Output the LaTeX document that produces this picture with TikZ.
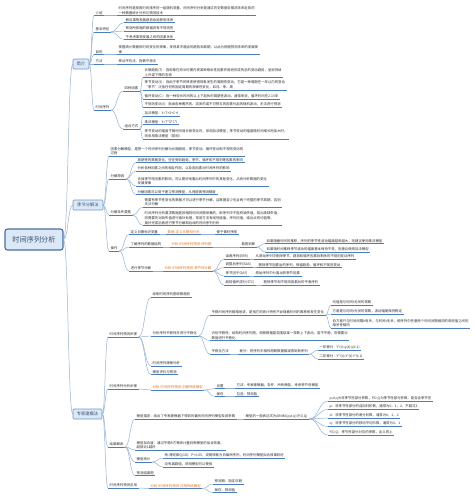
\documentclass[tikz,border=0pt]{standalone}
\usepackage{fontspec}
\newfontfamily\cjk{Noto Sans CJK SC}
\usetikzlibrary{calc}

\definecolor{txt}{RGB}{45,45,45}
\definecolor{ulc}{RGB}{74,126,187}
\definecolor{lnc}{RGB}{150,178,205}
\definecolor{orng}{RGB}{226,112,26}
\definecolor{boxf}{RGB}{219,232,246}
\definecolor{boxd}{RGB}{111,152,200}
\definecolor{rootd}{RGB}{74,110,160}
\definecolor{boxt}{RGB}{60,80,112}

\tikzset{
  topic/.style={anchor=south west, inner xsep=1.5pt, inner ysep=0.9pt, align=left, text=txt,
    font=\cjk\fontsize{3.4}{4.6}\selectfont,
    append after command={(\tikzlastnode.south west) edge[uline] (\tikzlastnode.south east)}},
  menu/.style={topic, text=orng},
  uline/.style={draw=ulc, line width=0.55pt},
  branch/.style={draw=lnc, line width=0.5pt,
    to path={.. controls ($(\tikztostart)!0.5!(\tikztotarget |- \tikztostart)$) and ($(\tikztotarget)!0.5!(\tikztostart |- \tikztotarget)$) .. (\tikztotarget)}},
  mainbox/.style={draw=boxd, fill=boxf, line width=0.6pt, rounded corners=1pt, inner sep=0pt,
    minimum height=10pt, text=boxt, font=\cjk\fontsize{4.3}{5}\selectfont},
  rootbox/.style={draw=rootd, fill=boxf, line width=1.1pt, rounded corners=2.5pt, inner sep=0pt,
    minimum width=58pt, minimum height=21pt, text=boxt, font=\cjk\fontsize{7.2}{8}\selectfont}
}

\begin{document}
\begin{tikzpicture}[x=1pt, y=-1pt]
\path[use as bounding box, fill=white] (0,0) rectangle (474,499);

% root and main branches
\node[rootbox] (root) at (34,239.5) {时间序列分析};
\node[mainbox, minimum width=16pt] (jj) at (81,64) {简介};
\node[mainbox, minimum width=30pt] (jfd) at (88,205) {季节分解法};
\node[mainbox, minimum width=29pt] (zj) at (87.5,414) {专家建模法};
\foreach \m in {jj,jfd,zj} \draw[branch] (root.east) to (\m.west);

% 简介
\node[topic] (js) at (94,15.5) {介绍};
\node[topic] (jsT) at (117,15.5) {时间序列是按照时间排序的一组随机变量，时间序列分析是通过历史数据去推测未来走势的\\一种数据统计分析与预测技术};
\node[topic] (tz) at (94,32) {基本特征};
\node[topic] (tz1) at (124,22.5) {假设事物发展趋势会延伸到未来};
\node[topic] (tz2) at (124,31) {预测所依据的数据具有不规则性};
\node[topic] (tz3) at (124,39.5) {不考虑事物发展之间的因果关系};
\node[topic] (md) at (94,54.5) {目的};
\node[topic] (mdT) at (117,54.5) {掌握统计数据依时间变化的规律，发现其中蕴含的趋势和周期，以此为依据预测未来的发展规\\律};
\node[topic] (ff) at (94,64) {方法};
\node[topic] (ffT) at (117,64) {移动平均法、指数平滑法};
\node[topic] (xl) at (94,110) {时间序列};
\node[topic] (yz) at (123,91) {四种因素};
\node[topic] (yz1) at (143,77.5) {长期趋势(T)：指现象在较长时期内受某种根本性因素作用而形成的总的变动趋势，呈现持续\\上升或下降的态势};
\node[topic] (yz2) at (143,90) {季节变动(S)：指由于季节的转变使得现象发生的周期性变动，它是一种周期在一年以内的变动\\“季节”泛指任何有固定周期的规律性变化，如月、季、周};
\node[topic] (yz3) at (143,99) {循环变动(C)：指一种较长时间的以上下起伏的周期性波动，通常来说，循环时间在2-15年};
\node[topic] (yz4) at (143,107.5) {不规则变动(I)：指由各种偶然的、突发的或不可预见的因素引起的随机波动，无法进行预测};
\node[topic] (zh) at (123,129) {组合方式};
\node[topic] (zh1) at (143,116) {加法模型：Y=T+S+C+I};
\node[topic] (zh2) at (143,124.5) {乘法模型：Y=T*S*C*I};
\node[topic] (zh3) at (143,139) {季节变动的幅度不随时间增长而变化时，采用加法模型；季节变动的幅度随时间增长而加大时，\\则采用乘法模型（常用）};
\foreach \c in {js,tz,md,ff,xl} \draw[branch] (jj.east) to (\c.south west);
\draw[branch] (js.south east) to (jsT.south west);
\draw[branch] (md.south east) to (mdT.south west);
\draw[branch] (ff.south east) to (ffT.south west);
\foreach \c in {tz1,tz2,tz3} \draw[branch] (tz.south east) to (\c.south west);
\foreach \c in {yz,zh} \draw[branch] (xl.south east) to (\c.south west);
\foreach \c in {yz1,yz2,yz3,yz4} \draw[branch] (yz.south east) to (\c.south west);
\foreach \c in {zh1,zh2,zh3} \draw[branch] (zh.south east) to (\c.south west);

% 季节分解法
\node[topic] (jfd0) at (109,156) {因素分解模型，是把一个时间序列分解为长期趋势、季节变动、循环变动和不规则变动的\\过程};
\node[topic] (yy) at (109,179) {分解原因};
\node[topic] (yy1) at (136,162.5) {周期性的数据变化，往往受到趋势、季节、循环和不规则等因素的影响};
\node[topic] (yy2) at (136,171) {分析各种因素之间的相互作用，以及各因素对时间序列的影响};
\node[topic] (yy3) at (136,186) {去掉季节性因素的影响，可以更好地看出时间序列中的其他变化，从而分析数据的变化\\发展规律};
\node[topic] (yy4) at (136,194.5) {分解因素可以用于建立预测模型，从而提高预测精度};
\node[topic] (tj) at (109,215) {分解条件要素};
\node[topic] (tj1) at (143,207) {需要有季节性变化的数据才可以进行季节分解，且数据至少包含两个完整的季节周期，否则\\无法分解};
\node[topic] (tj2) at (143,225.5) {时间序列分析要求数据是按相同时间间隔采集的，即序列中不能有缺失值，若出现缺失值，\\则需要先对缺失值进行插补处理，常用方法有线性插值、序列均值、临近点的均值等，\\插补完成后再进行季节分解和后续的时间序列分析};
\node[topic] (cz) at (109,251) {操作};
\node[topic] (dy) at (129,234.5) {定义日期标识变量};
\node[menu] (dyM) at (166,234.5) {数据-定义日期和时间};
\node[topic] (dyT) at (215,234.5) {便于做时序图};
\node[topic] (lj) at (129,247) {了解序列的数据结构};
\node[menu] (ljM) at (170,247) {分析-时间序列预测-序列图};
\node[topic] (ljK) at (240,247) {看图判断};
\node[topic] (ljK1) at (265,243.5) {如果随着时间的推移，序列的季节性波动幅度越来越大，则建议使用乘法模型};
\node[topic] (ljK2) at (265,252) {如果随时间推移季节波动的幅度基本保持不变，则建议使用加法模型};
\node[topic] (jx) at (129,271) {进行季节分解};
\node[menu] (jxM) at (163,271) {分析-时间序列预测-季节性分解};
\node[topic] (jx1) at (224,259) {误差序列(ERR)};
\node[topic] (jx1T) at (254,259) {从原始序列中剔除季节、趋势和循环因素后剩余的不规则变动序列};
\node[topic] (jx2) at (224,267.5) {调整后序列(SAS)};
\node[topic] (jx2T) at (257,267.5) {剔除季节因素后的序列，保留趋势、循环和不规则变动};
\node[topic] (jx3) at (224,276) {季节因子(SAF)};
\node[topic] (jx3T) at (254,276) {原始序列中分离出的季节因素};
\node[topic] (jx4) at (224,285) {趋势循环成分(STC)};
\node[topic] (jx4T) at (262,285) {剔除季节和不规则因素后的平滑序列};
\foreach \c in {jfd0,yy,tj,cz} \draw[branch] (jfd.east) to (\c.south west);
\foreach \c in {yy1,yy2,yy3,yy4} \draw[branch] (yy.south east) to (\c.south west);
\foreach \c in {tj1,tj2} \draw[branch] (tj.south east) to (\c.south west);
\foreach \c in {dy,lj,jx} \draw[branch] (cz.south east) to (\c.south west);
\draw[branch] (dy.south east) to (dyM.south west);
\draw[branch] (dyM.south east) to (dyT.south west);
\draw[branch] (lj.south east) to (ljM.south west);
\draw[branch] (ljM.south east) to (ljK.south west);
\foreach \c in {ljK1,ljK2} \draw[branch] (ljK.south east) to (\c.south west);
\draw[branch] (jx.south east) to (jxM.south west);
\foreach \c in {jx1,jx2,jx3,jx4} {
  \draw[branch] (jxM.south east) to (\c.south west);
  \draw[branch] (\c.south east) to (\c T.south west);
}

% 专家建模法
\node[topic] (yc) at (108,337) {时间序列预测步骤};
\node[topic] (yc1) at (151,297) {绘制时间序列图观察趋势};
\node[topic] (yc2) at (151,336) {分析序列平稳性并进行平稳化};
\node[topic] (yc3) at (151,366) {时间序列建模分析};
\node[topic] (yc4) at (151,374.5) {模型评价与预测};
\node[topic] (pw1) at (210,315) {平稳时间序列粗略地讲，是指它的统计特性不会随着时间的推移而发生变化};
\node[topic] (pw1a) at (331,305) {均值是与时间t无关的常数};
\node[topic] (pw1b) at (331,314) {方差是与时间t无关的常数，波动幅度保持稳定};
\node[topic] (pw1c) at (331,328) {协方差只与时间间隔k有关，与时间t无关，即序列中任意两个时间间隔相同的观测值之间的\\相关性相同};
\node[topic] (pw2) at (210,340.5) {识别平稳性：绘制时间序列图，观察数据是否围绕某一常数上下波动，若不平稳，则需要对\\数据进行平稳化};
\node[topic] (pw3) at (210,354) {平稳化方法};
\node[topic] (cf) at (238,354) {差分：将序列中相邻两期数据相减得到新序列};
\node[topic] (cf1) at (318,350) {一阶差分：Y'(t)=y(t)-y(t-1)};
\node[topic] (cf2) at (318,359) {二阶差分：Y''(t)=Y'(t)-Y'(t-1)};
\node[topic] (fx) at (108,389) {时间序列分析步骤};
\node[menu] (fxM) at (151,390) {分析-时间序列预测-创建传统模型};
\node[topic] (sz) at (215,388.5) {设置};
\node[topic] (szT) at (235,388.5) {方法：专家建模器；条件：所有模型，考虑季节性模型};
\node[topic] (bc) at (215,396.5) {保存};
\node[topic] (bcT) at (235,396.5) {勾选：预测值};
\node[topic] (jd) at (108,447) {结果解读};
\node[topic] (ms) at (135,419) {模型描述：给出了专家建模器下得到的最优时间序列模型及其参数};
\node[topic] (msA) at (244,419) {模型的一般表达式为ARIMA(p,d,q)(P,D,Q)};
\node[topic] (msA1) at (328,401) {p,d,q为非季节性部分参数，P,D,Q为季节性部分参数，是否含季节性};
\node[topic] (msA2) at (328,409.5) {p：非季节性部分的自回归阶数，通常为0，1，2，不超过3};
\node[topic] (msA3) at (328,418) {d：非季节性部分的差分阶数，通常为0，1，2};
\node[topic] (msA4) at (328,426.5) {q：非季节性部分的移动平均阶数，通常为0，1};
\node[topic] (msA5) at (328,435) {P,D,Q：季节性部分对应的参数，含义同上};
\node[topic] (nh) at (135,450) {模型拟合度：通过平稳R方等统计量判断模型的拟合效果，\\越接近1越好};
\node[topic] (mt) at (135,462) {模型统计};
\node[topic] (mt1) at (163,458) {杨-博克斯Q(18)：P>0.05，说明残差为白噪声序列，时间序列模型拟合效果较好};
\node[topic] (mt2) at (163,467) {没有离群值，说明模型可以使用};
\node[topic] (yt) at (135,475.5) {预测结果图};
\node[topic] (ya) at (108,488) {时间序列预测应用};
\node[menu] (yaM) at (149,488.5) {分析-时间序列预测-应用传统模型};
\node[topic] (yaA) at (213,484) {预测期：指定日期};
\node[topic] (yaB) at (213,492.5) {保存：预测值};
\foreach \c in {yc,fx,jd,ya} \draw[branch] (zj.east) to (\c.south west);
\foreach \c in {yc1,yc2,yc3,yc4} \draw[branch] (yc.south east) to (\c.south west);
\foreach \c in {pw1,pw2,pw3} \draw[branch] (yc2.south east) to (\c.south west);
\foreach \c in {pw1a,pw1b,pw1c} \draw[branch] (pw1.south east) to (\c.south west);
\draw[branch] (pw3.south east) to (cf.south west);
\foreach \c in {cf1,cf2} \draw[branch] (cf.south east) to (\c.south west);
\draw[branch] (fx.south east) to (fxM.south west);
\foreach \c in {sz,bc} \draw[branch] (fxM.south east) to (\c.south west);
\draw[branch] (sz.south east) to (szT.south west);
\draw[branch] (bc.south east) to (bcT.south west);
\foreach \c in {ms,nh,mt,yt} \draw[branch] (jd.south east) to (\c.south west);
\draw[branch] (ms.south east) to (msA.south west);
\foreach \c in {msA1,msA2,msA3,msA4,msA5} \draw[branch] (msA.south east) to (\c.south west);
\foreach \c in {mt1,mt2} \draw[branch] (mt.south east) to (\c.south west);
\draw[branch] (ya.south east) to (yaM.south west);
\foreach \c in {yaA,yaB} \draw[branch] (yaM.south east) to (\c.south west);
\end{tikzpicture}
\end{document}
